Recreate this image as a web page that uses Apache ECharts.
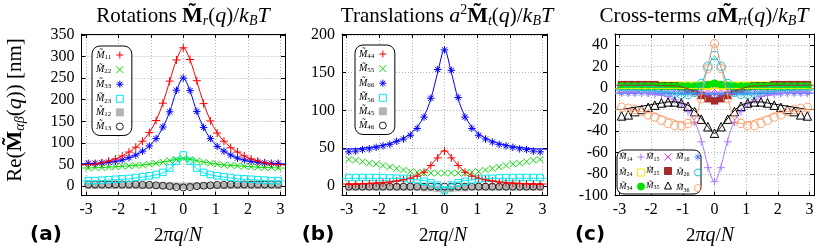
<!DOCTYPE html>
<html><head><meta charset="utf-8">
<script src="https://cdn.jsdelivr.net/npm/echarts@6/dist/echarts.min.js"></script>
<style>html,body{margin:0;padding:0;background:#fff}#c{width:830px;height:249px}</style>
</head><body><div id="c"></div>
<script>
// ---------- data ----------
const N = 30;
const qMarkers = [-14,-13,-12,-11,-10,-9,-8,-7,-6,-5,-4,-3,-2,-1,0,1,2,3,4,5,6,7,8,9,10,11,12,13,14];
const qLine = [-15,-14,-13,-12,-11,-10,-9,-8,-7,-6,-5,-4,-3,-2,-1,0,1,2,3,4,5,6,7,8,9,10,11,12,13,14,15];
const xTickValues = [-3,-2,-1,0,1,2,3];
const yTicksA = [0,50,100,150,200,250,300,350];
const yTicksB = [0,50,100,150,200];
const yTicksC = [-100,-80,-60,-40,-20,0,20,40];

// panel (a) rotations
const aM11 = [50,51,54,58,63,70,79,90,104,124,152,192,243,292,320,293,244,191,151,123,104,89,79,70,63,58,54,51,50];
const aM22 = [42,43,43,44,45,46,47,48,49,51,53,56,59,62,64,62,59,56,53,51,49,48,47,46,45,44,43,43,42];
const aM33 = [53,53,54,56,58,61,66,72,81,93,110,137,172,222,250,221,173,136,110,92,81,72,65,61,58,56,54,53,53];
const aM23 = [13,13,14,15,16,17,18,20,22,24,27,32,42,58,72,58,42,32,27,24,22,20,18,17,16,15,14,13,13];
const aM12 = [1,1,1,1,1,1,1,1,1,1,1,1,1,1,1,1,1,1,1,1,1,1,1,1,1,1,1,1,1];
const aM13 = [4,4,4,4,4,4,4,4,3,3,2,1,0,-2,-3,-2,0,1,2,3,3,4,4,4,4,4,4,4,4];
const aFit11 = [49,50,51,54,58,63,70,79,90,104,124,152,192,243,292,320,292,243,192,152,124,104,90,79,70,63,58,54,51,50,49];
const aFit22 = [42,42,43,43,44,45,46,47,48,49,51,53,56,59,62,63,62,59,56,53,51,49,48,47,46,45,44,43,43,42,42];
const aFit33 = [52,52,52,53,55,57,60,65,72,81,93,110,136,172,220,250,220,172,136,110,93,81,72,65,60,57,55,53,52,52,52];
const aFit23 = [12,12,12,13,14,15,16,17,19,21,23,26,31,40,55,65,55,40,31,26,23,21,19,17,16,15,14,13,12,12,12];

// panel (b) translations
const bM44 = [2,2,2.5,3,3.5,4,5,6.5,8,10,13,18,27,37,46,37,27,18,13,10,8,6.5,5,4,3.5,3,2.5,2,2];
const bM55 = [35,34,32,30,29,27,25,23,21,19,18,17,17,17,17,17,17,17,18,19,21,23,25,27,29,30,32,34,35];
const bM66 = [45,46,48,49,51,53,55,59,62,67,76,91,116,154,180,153,117,91,76,67,62,58,55,53,51,49,48,46,45];
const bM56 = [11,11,11,11,11,11,10.5,10,10,9,8,6,4,1,-6,1,4,6,8,9,10,10,10.5,11,11,11,11,11,11];
const bM45 = [-2,-2,-2,-2,-2,-2,-2,-2,-2,-2,-2,-3,-3,-4,-5,-4,-3,-3,-2,-2,-2,-2,-2,-2,-2,-2,-2,-2,-2];
const bM46 = [-1,-1,-1,-1,-1,-1,-1,-1,-1,-1,-1,-1,-1,-1,-1,-1,-1,-1,-1,-1,-1,-1,-1,-1,-1,-1,-1,-1,-1];
const bFit44 = [2.5,2.5,2.8,3,3.5,4,4.5,5.2,6.5,8,10.5,14,19,27,38,47,38,27,19,14,10.5,8,6.5,5.2,4.5,4,3.5,3,2.8,2.5,2.5];
const bFit66 = [48,49,49,50,51,52,54,56,59,63,69,78,92,115,150,180,150,115,92,78,69,63,59,56,54,52,51,50,49,49,48];
const bFit56 = [10,10,10,10,10,10,10,10,10,9.5,9,8,7,5,2,-2,2,5,7,8,9,9.5,10,10,10,10,10,10,10,10,10];

// panel (c) cross terms
const cM14 = [-4,-4,-4,-5,-5,-6,-7,-8,-11,-15,-22,-32,-50,-74,-87,-74,-50,-32,-22,-15,-11,-8,-7,-6,-5,-5,-4,-4,-4];
const cM15 = [-1.5,-1.5,-1.5,-1.5,-1.5,-1.5,-1.5,-1.5,-1.5,-1.5,-1.5,-1.5,-1.5,-1.5,-1.5,-1.5,-1.5,-1.5,-1.5,-1.5,-1.5,-1.5,-1.5,-1.5,-1.5,-1.5,-1.5,-1.5,-1.5];
const cM16 = [-5,-5,-5,-5,-5,-5,-5,-5,-5,-5,-5,-5,-5,-6,-6,-6,-5,-5,-5,-5,-5,-5,-5,-5,-5,-5,-5,-5,-5];
const cM24 = [2,2,2,2,2,2,2,2,2,2,2,2,2,2,3,2,2,2,2,2,2,2,2,2,2,2,2,2,2];
const cM25 = [3,3,3,3,3,3,2,2,2,1,-1,-3,-7,-10,-12,-10,-7,-3,-1,1,2,2,2,3,3,3,3,3,3];
const cM26 = [-1,-1,-1,-1,-2,-2,-3,-4,-5,-6,-6,-4,4,20,30,20,4,-4,-6,-6,-5,-4,-3,-2,-2,-1,-1,-1,-1];
const cM34 = [1.5,1.5,1.5,1.5,1.5,1.5,1.5,1.5,1.5,1.5,1.5,1.5,2,3,4,3,2,1.5,1.5,1.5,1.5,1.5,1.5,1.5,1.5,1.5,1.5,1.5,1.5];
const cM35 = [-26,-25,-22,-20,-18,-16,-14,-13,-13,-14,-17,-22,-29,-36,-42,-36,-29,-22,-17,-14,-13,-13,-14,-16,-18,-20,-22,-25,-26];
const cM36 = [-18,-19,-20,-22,-25,-27,-30,-33,-35,-35,-33,-30,-10,18,41,18,-10,-30,-33,-35,-35,-33,-30,-27,-25,-22,-20,-19,-18];
const cFit14 = [-4.5,-4.5,-4.5,-4.5,-5,-5.5,-6,-7,-8.5,-11,-15,-21,-31,-48,-72,-87,-72,-48,-31,-21,-15,-11,-8.5,-7,-6,-5.5,-5,-4.5,-4.5,-4.5,-4.5];
const cFit16 = [-5,-5,-5,-5,-5,-5,-5,-5,-5,-5,-5,-5,-5,-5,-5,-5,-5,-5,-5,-5,-5,-5,-5,-5,-5,-5,-5,-5,-5,-5,-5];
const cFit24 = [-0.5,-0.5,-0.5,-0.5,-0.5,-0.5,-0.5,-0.5,-0.5,-0.5,-0.5,-0.5,-0.5,-0.5,-0.5,-0.5,-0.5,-0.5,-0.5,-0.5,-0.5,-0.5,-0.5,-0.5,-0.5,-0.5,-0.5,-0.5,-0.5,-0.5,-0.5];
const cFit25 = [2.5,2.5,2.5,2.5,2.5,2.5,2.5,2,2,2,1,-1,-3,-6,-9,-11,-9,-6,-3,-1,1,2,2,2,2.5,2.5,2.5,2.5,2.5,2.5,2.5];
const cFit26 = [-2,-2,-2,-2,-2.5,-2.5,-3,-3.5,-4,-5,-6,-6,-4,3,19,29,19,3,-4,-6,-6,-5,-4,-3.5,-3,-2.5,-2.5,-2,-2,-2,-2];
const cFit35 = [-20,-20,-19,-18,-17,-16,-15,-14,-13,-13,-14,-16,-21,-28,-36,-42,-36,-28,-21,-16,-14,-13,-13,-14,-15,-16,-17,-18,-19,-20,-20];
const cFit36 = [-20,-20,-20,-21,-22,-23,-24,-26,-28,-30,-32,-33,-30,-8,20,41,20,-8,-30,-33,-32,-30,-28,-26,-24,-23,-22,-21,-20,-20,-20];

// ---------- chart ----------
const SERIF = '"Liberation Serif","DejaVu Serif",serif';
const chart = echarts.init(document.getElementById('c'));
const toX = q => 2 * Math.PI * q / N;
const pts = (qs, vals) => qs.map((q, i) => [toX(q), vals[i]]);

const PLUS = 'path://M0,5L10,5M5,0L5,10';
const CROSS = 'path://M0,0L10,10M10,0L0,10';
const STAR = 'path://M0,5L10,5M5,0L5,10M1.5,1.5L8.5,8.5M8.5,1.5L1.5,8.5';

const grids = [
  {left: 81.5, top: 34, width: 203.5, height: 161.7},
  {left: 342, top: 34, width: 205, height: 161.7},
  {left: 615, top: 34, width: 199, height: 161.7}
];
const yRanges = [[-22, 352], [-13, 201], [-100, 50]];
const yTicks = [yTicksA, yTicksB, yTicksC];

const xAxes = [], yAxes = [];
[false, true].forEach(mirror => {
  for (let i = 0; i < 3; i++) {
    xAxes.push({
      type: 'value', gridIndex: i, min: -Math.PI, max: Math.PI,
      position: mirror ? 'top' : 'bottom',
      axisLine: {show: true, onZero: false, lineStyle: {color: '#000', width: 1}},
      axisTick: {show: true, inside: true, length: 4, customValues: xTickValues, lineStyle: {color: '#000', width: 1}},
      axisLabel: {show: !mirror, customValues: xTickValues, color: '#000', fontFamily: SERIF, fontSize: 16, margin: 6, formatter: v => String(v)},
      splitLine: {show: !mirror, lineStyle: {color: '#a0a0a0', type: [1, 2], width: 0.8}}
    });
    yAxes.push({
      type: 'value', gridIndex: i, min: yRanges[i][0], max: yRanges[i][1],
      position: mirror ? 'right' : 'left',
      axisLine: {show: true, onZero: false, lineStyle: {color: '#000', width: 1}},
      axisTick: {show: true, inside: true, length: 4, customValues: yTicks[i], lineStyle: {color: '#000', width: 1}},
      axisLabel: {show: !mirror, customValues: yTicks[i], color: '#000', fontFamily: SERIF, fontSize: 16, margin: 7, formatter: v => String(v)},
      splitLine: {show: !mirror, lineStyle: {color: '#a0a0a0', type: [1, 2], width: 0.8}}
    });
  }
});

const series = [];
function mk(name, g, vals, sym, size, color, filled) {
  series.push({
    name, type: 'scatter', xAxisIndex: g, yAxisIndex: g, symbol: sym, symbolSize: size,
    data: pts(qMarkers, vals), silent: true, animation: false,
    itemStyle: filled ? {color, borderColor: color, borderWidth: 0, opacity: 1}
                      : {color: 'none', borderColor: color, borderWidth: 1, opacity: 1}
  });
}
function fit(name, g, vals, color) {
  series.push({
    name, type: 'line', xAxisIndex: g, yAxisIndex: g, smooth: 0.35, symbol: 'none', showSymbol: false,
    data: pts(qLine, vals), silent: true, animation: false,
    lineStyle: {color, width: 1}
  });
}
const RED = '#ff0000', GREEN = '#00e000', BLUE = '#0000ff', CYAN = '#00e8f0', GRAY = '#b4b4b4', DARK = '#222';
// (a)
mk('M12', 0, aM12, 'rect', 6.5, GRAY, true);
mk('M13', 0, aM13, 'circle', 7, DARK, false);
mk('M23', 0, aM23, 'rect', 6.5, CYAN, false);
mk('M22', 0, aM22, CROSS, 6.5, GREEN, false);
mk('M33', 0, aM33, STAR, 7.5, BLUE, false);
mk('M11', 0, aM11, PLUS, 8, RED, false);
fit('f23', 0, aFit23, CYAN);
fit('f22', 0, aFit22, GREEN);
fit('f33', 0, aFit33, BLUE);
fit('f11', 0, aFit11, RED);
// (b)
mk('M45', 1, bM45, 'rect', 6.5, GRAY, true);
mk('M46', 1, bM46, 'circle', 7, DARK, false);
mk('M56', 1, bM56, 'rect', 6.5, CYAN, false);
mk('M55', 1, bM55, CROSS, 6.5, GREEN, false);
mk('M66', 1, bM66, STAR, 7.5, BLUE, false);
mk('M44', 1, bM44, PLUS, 8, RED, false);
fit('f56', 1, bFit56, CYAN);
fit('f66', 1, bFit66, BLUE);
fit('f44', 1, bFit44, RED);
// (c)
const PURPLE = '#b07cff', MAGENTA = '#ff30ff', CORN = '#5878ff', YELLOW = '#eeee00', BROWN = '#a52a2a', CYAN2 = '#18c0d8', ORANGE = '#ffa070';
mk('M15', 2, cM15, CROSS, 6.5, MAGENTA, false);
mk('M24', 2, cM24, 'rect', 7.5, YELLOW, false);
mk('M25', 2, cM25, 'rect', 7.5, BROWN, true);
mk('M16', 2, cM16, STAR, 7, CORN, false);
mk('M34', 2, cM34, 'circle', 8, GREEN, true);
mk('M26', 2, cM26, 'circle', 8.5, CYAN2, false);
mk('M14', 2, cM14, PLUS, 8, PURPLE, false);
mk('M35', 2, cM35, 'triangle', 8.5, '#000', false);
mk('M36', 2, cM36, 'circle', 8.5, ORANGE, false);
fit('f24', 2, cFit24, YELLOW);
fit('f25', 2, cFit25, BROWN);
fit('f16', 2, cFit16, CORN);
fit('f26', 2, cFit26, CYAN2);
fit('f14', 2, cFit14, PURPLE);
fit('f35', 2, cFit35, '#000');
fit('f36', 2, cFit36, ORANGE);

const legFmt = name => '{m|M\u0303}{s|' + name.slice(1) + '}';
const legRich = (fs, ss) => ({
  m: {fontFamily: SERIF, fontStyle: 'italic', fontSize: fs, lineHeight: fs + 1, color: '#000'},
  s: {fontFamily: SERIF, fontSize: ss, lineHeight: ss - 1, verticalAlign: 'bottom', color: '#000'}
});
function legendAB(left, top, names) {
  return {
    orient: 'vertical', left, top, align: 'right', data: names, formatter: legFmt,
    textStyle: {fontSize: 10, rich: legRich(10, 7)}, itemWidth: 7, itemHeight: 7, itemGap: 2.6,
    padding: [3, 6, 3, 4], borderColor: '#000', borderWidth: 1, borderRadius: 8, backgroundColor: '#fff',
    selectedMode: false, itemStyle: {borderWidth: 1}, z: 6
  };
}
function legendC(left, names) {
  return {
    orient: 'vertical', left, top: 151, align: 'right', data: names, formatter: legFmt,
    textStyle: {fontSize: 9, rich: legRich(9, 6)}, itemWidth: 7, itemHeight: 7, itemGap: 3.5,
    padding: 0, selectedMode: false, itemStyle: {borderWidth: 1}, z: 6
  };
}

const mkRich = fs => ({
  t: {fontFamily: SERIF, fontSize: fs, lineHeight: fs + 4, fill: '#000'},
  b: {fontFamily: SERIF, fontSize: fs + 1, fontWeight: 'bold', lineHeight: fs + 4, fill: '#000'},
  i: {fontFamily: SERIF, fontSize: fs + 1, fontStyle: 'italic', lineHeight: fs + 4, fill: '#000'},
  sp: {fontFamily: SERIF, fontSize: fs, lineHeight: fs + 4, fill: '#000'},
  sub: {fontFamily: SERIF, fontSize: Math.round(fs * 0.68), fontStyle: 'italic', lineHeight: Math.round(fs * 0.55), verticalAlign: 'bottom', fill: '#000'},
  sup: {fontFamily: SERIF, fontSize: Math.round(fs * 0.68), lineHeight: Math.round(fs * 0.55), verticalAlign: 'top', fill: '#000'}
});
const titleRich = mkRich(21), yRich = mkRich(21), xRich = mkRich(19);
const txt = (x, y, text, rich, extra) => Object.assign({type: 'text', x, y, z: 10, silent: true,
  style: {text, rich, align: 'center', verticalAlign: 'middle', fill: '#000'}}, extra || {});
const xName = '{t|2}{i|π}{i|q}{t|/}{i|N}';
const boldLab = (x, s) => ({type: 'text', x, y: 235, z: 10, silent: true,
  style: {text: s, font: 'bold 20px "DejaVu Sans"', fill: '#000', align: 'center', verticalAlign: 'middle'}});

chart.setOption({
  animation: false,
  backgroundColor: '#fff',
  grid: grids,
  xAxis: xAxes,
  yAxis: yAxes,
  series,
  legend: [
    legendAB(92, 46, ['M11', 'M22', 'M33', 'M23', 'M12', 'M13']),
    legendAB(355, 45, ['M44', 'M55', 'M66', 'M56', 'M45', 'M46']),
    legendC(619, ['M14', 'M24', 'M34']),
    legendC(646, ['M15', 'M25', 'M35']),
    legendC(676, ['M16', 'M26', 'M36'])
  ],
  graphic: [
    {type: 'rect', z: 5, silent: true, shape: {x: 617, y: 150, width: 84, height: 44, r: 7},
     style: {fill: '#fff', stroke: '#000', lineWidth: 1}},
    txt(183, 16, '{t|Rotations }{b|M\u0303}{sub|r}{t|(}{i|q}{t|)/}{i|k}{sub|B}{i|T}', titleRich),
    txt(447, 16, '{t|Translations }{i|a}{sup|2}{b|M\u0303}{sub|t}{t|(}{i|q}{t|)/}{i|k}{sub|B}{i|T}', titleRich),
    txt(704, 16, '{t|Cross-terms }{i|a}{b|M\u0303}{sub|rt}{t|(}{i|q}{t|)/}{i|k}{sub|B}{i|T}', titleRich),
    txt(15, 110, '{t|Re(}{b|M\u0303}{sub|αβ}{t|(}{i|q}{t|)) [nm]}', yRich, {rotation: Math.PI / 2}),
    txt(178, 236, xName, xRich), txt(443, 236, xName, xRich), txt(710, 236, xName, xRich),
    boldLab(46, '(a)'), boldLab(318, '(b)'), boldLab(590, '(c)')
  ]
});
</script></body></html>
